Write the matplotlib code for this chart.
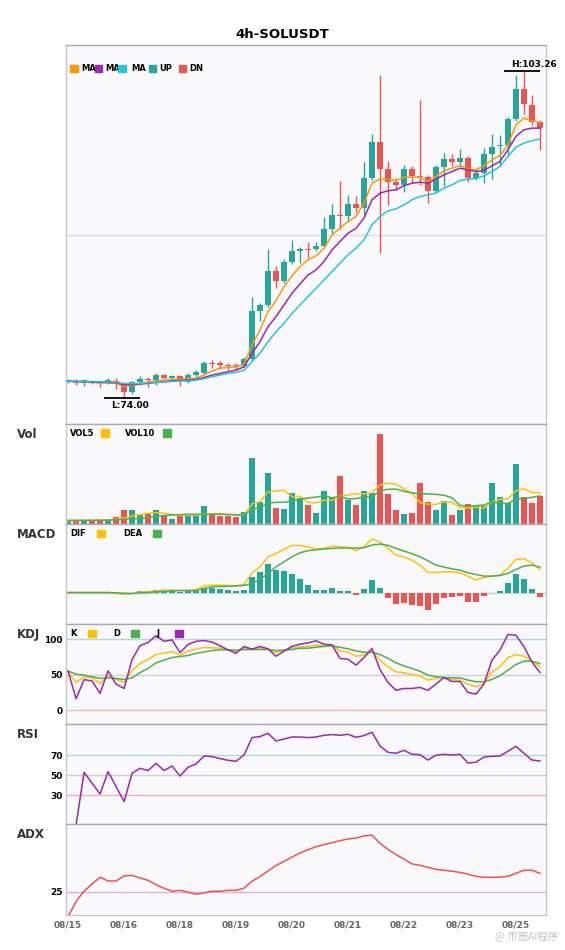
import numpy as np
import matplotlib
matplotlib.use("Agg")
import matplotlib.pyplot as plt
from matplotlib.patches import Rectangle

# ---- data (60 x 4h candles) ----
opens = [75.39, 75.51, 75.30, 75.48, 75.36, 75.30, 75.51, 75.06, 74.52, 75.39,
         75.63, 75.57, 76.02, 75.72, 75.93, 75.42, 75.99, 76.23, 77.13, 77.07,
         76.95, 76.89, 76.83, 77.43, 81.80, 82.31, 85.36, 84.46, 86.20, 87.19,
         87.37, 87.37, 87.64, 89.13, 90.40, 90.33, 91.38, 91.05, 93.74, 96.89,
         94.55, 93.38, 93.08, 94.52, 93.89, 93.77, 92.57, 94.70, 95.42, 95.09,
         95.51, 93.74, 94.19, 95.87, 96.53, 96.62, 98.98, 101.71, 100.27, 98.68]
highs = [75.63, 75.63, 75.63, 75.51, 75.39, 75.72, 75.72, 75.18, 75.51, 75.93,
         75.81, 76.17, 76.11, 76.05, 76.02, 76.17, 76.47, 77.31, 77.37, 77.28,
         77.07, 77.13, 77.67, 83.03, 82.52, 87.34, 85.81, 86.41, 88.15, 87.55,
         87.94, 88.00, 90.24, 91.38, 93.47, 92.19, 92.10, 95.09, 97.66, 102.96,
         95.18, 93.68, 94.85, 94.79, 100.66, 93.98, 94.85, 95.93, 95.84, 96.32,
         95.63, 94.49, 96.38, 97.66, 97.57, 99.16, 102.96, 103.26, 101.17, 98.92]
lows = [75.27, 75.15, 75.06, 75.21, 74.97, 75.21, 74.79, 74.00, 74.28, 75.21,
        74.97, 75.15, 75.63, 75.57, 75.06, 75.27, 75.81, 76.02, 76.62, 76.56,
        76.47, 76.47, 76.71, 77.37, 80.90, 82.16, 83.86, 84.31, 85.99, 86.11,
        86.56, 87.19, 87.55, 88.80, 89.10, 89.79, 90.66, 90.39, 93.53, 86.95,
        91.29, 92.64, 92.40, 93.29, 93.08, 91.50, 92.34, 92.99, 94.79, 94.79,
        93.38, 93.53, 93.23, 93.59, 94.79, 95.63, 98.77, 99.46, 98.47, 96.17]
closes = [75.51, 75.33, 75.54, 75.39, 75.30, 75.54, 75.21, 74.52, 75.39, 75.69,
          75.57, 76.05, 75.75, 75.93, 75.51, 75.99, 76.26, 77.10, 77.01, 76.95,
          76.86, 76.80, 77.46, 81.77, 82.31, 85.36, 84.49, 86.20, 87.16, 87.34,
          87.28, 87.64, 89.13, 90.39, 90.30, 91.38, 91.05, 93.74, 96.89, 94.55,
          93.38, 93.08, 94.52, 93.92, 93.77, 92.57, 94.70, 95.42, 95.09, 95.51,
          93.74, 94.19, 95.87, 96.47, 96.62, 98.98, 101.71, 100.33, 98.71, 98.20]

ma_fast = [75.45, 75.42, 75.39, 75.36, 75.33, 75.33, 75.27, 75.03, 75.06, 75.24,
           75.39, 75.51, 75.57, 75.63, 75.63, 75.72, 75.72, 76.05, 76.38, 76.65,
           76.71, 76.74, 76.95, 78.72, 80.06, 81.71, 82.70, 83.95, 84.91, 85.75,
           86.35, 86.71, 87.40, 88.59, 89.19, 89.79, 90.24, 91.44, 93.23, 93.62,
           93.56, 93.47, 93.77, 93.77, 93.77, 93.38, 93.83, 94.34, 94.58, 94.82,
           94.52, 94.43, 94.79, 95.33, 95.72, 96.68, 98.47, 99.07, 98.83, 98.68]
ma_mid = [75.48, 75.45, 75.42, 75.39, 75.36, 75.36, 75.33, 75.15, 75.15, 75.21,
          75.27, 75.36, 75.42, 75.51, 75.54, 75.57, 75.63, 75.81, 76.02, 76.17,
          76.32, 76.47, 76.75, 77.97, 79.01, 80.36, 81.26, 82.31, 83.36, 84.19,
          85.00, 85.45, 86.20, 87.25, 88.00, 88.74, 89.19, 90.09, 91.74, 92.34,
          92.55, 92.64, 93.00, 93.23, 93.32, 93.23, 93.59, 93.98, 94.28, 94.58,
          94.43, 94.28, 94.37, 94.79, 95.18, 96.23, 97.43, 98.02, 98.17, 98.17]
ma_slow = [75.48, 75.48, 75.45, 75.45, 75.42, 75.42, 75.36, 75.27, 75.24, 75.27,
           75.33, 75.36, 75.39, 75.45, 75.48, 75.51, 75.57, 75.69, 75.87, 76.02,
           76.17, 76.26, 76.45, 77.22, 77.97, 79.01, 79.91, 80.66, 81.56, 82.31,
           83.06, 83.80, 84.55, 85.30, 86.05, 86.80, 87.40, 88.15, 89.49, 90.24,
           90.75, 90.93, 91.29, 91.74, 92.04, 92.19, 92.34, 92.79, 93.08, 93.47,
           93.59, 93.65, 93.89, 94.28, 94.73, 95.63, 96.47, 96.83, 97.04, 97.19]

volume = [100, 130, 110, 120, 120, 120, 220, 430, 430, 300,
          310, 430, 260, 160, 260, 260, 250, 550, 280, 250,
          250, 220, 370, 1990, 670, 1540, 490, 460, 940, 790,
          580, 340, 1000, 790, 1450, 740, 580, 1000, 940, 2710,
          910, 430, 310, 340, 1240, 670, 430, 700, 280, 430,
          610, 550, 550, 1240, 820, 640, 1810, 820, 640, 850]
vol5 = [100, 110, 120, 120, 130, 130, 150, 190, 250, 290,
        330, 350, 330, 290, 270, 280, 270, 300, 320, 320,
        300, 290, 280, 610, 680, 970, 1000, 1020, 830, 840,
        660, 640, 720, 720, 840, 880, 915, 910, 945, 1180,
        1230, 1205, 1060, 940, 650, 600, 600, 670, 665, 505,
        490, 510, 485, 670, 750, 755, 1010, 1065, 950, 945]
vol10 = [120, 120, 120, 120, 120, 125, 135, 150, 160, 170,
         200, 240, 260, 280, 290, 300, 300, 300, 300, 300,
         290, 280, 280, 450, 510, 630, 660, 660, 700, 760,
         790, 815, 860, 790, 840, 760, 770, 820, 820, 1010,
         1050, 1055, 990, 940, 920, 910, 900, 870, 800, 570,
         545, 555, 580, 670, 630, 625, 760, 775, 810, 850]

dif = [0, 0, 0, 0, 0, 0, -0.033, -0.1, -0.05, 0.017,
       0.033, 0.083, 0.117, 0.117, 0.1, 0.1, 0.15, 0.333, 0.367, 0.367,
       0.35, 0.333, 0.4, 0.983, 1.283, 1.783, 1.95, 2.15, 2.35, 2.35,
       2.267, 2.167, 2.2, 2.317, 2.283, 2.267, 2.083, 2.283, 2.667, 2.517,
       2.2, 1.867, 1.767, 1.617, 1.367, 1.0, 1.0, 1.033, 1.033, 0.983,
       0.817, 0.617, 0.75, 0.817, 0.867, 1.2, 1.65, 1.683, 1.483, 1.15]
dea = [0, 0, 0, 0, 0, 0, -0.017, -0.033, -0.05, -0.017,
       0, 0.033, 0.067, 0.083, 0.1, 0.1, 0.1, 0.2, 0.283, 0.3,
       0.317, 0.333, 0.35, 0.45, 0.65, 0.95, 1.283, 1.533, 1.783, 1.983,
       2.083, 2.133, 2.167, 2.2, 2.217, 2.217, 2.217, 2.233, 2.367, 2.417,
       2.35, 2.2, 2.067, 1.933, 1.783, 1.583, 1.367, 1.267, 1.183, 1.117,
       0.983, 0.9, 0.817, 0.817, 0.85, 0.95, 1.15, 1.317, 1.367, 1.267]
macd_hist = [0, 0, 0, 0, -0.017, 0, -0.033, -0.083, -0.017, 0.1,
             0.1, 0.15, 0.1, 0.067, 0.033, 0.067, 0.083, 0.25, 0.25, 0.2,
             0.117, 0.1, 0.117, 0.783, 1.017, 1.417, 1.117, 1.067, 0.917, 0.65,
             0.367, 0.117, 0.117, 0.217, 0.067, 0.067, -0.117, 0.167, 0.617, 0.217,
             -0.283, -0.583, -0.517, -0.633, -0.683, -0.883, -0.583, -0.283, -0.217, -0.183,
             -0.483, -0.483, -0.183, 0.0, 0.067, 0.467, 0.917, 0.667, 0.167, -0.217]

k_line = [54, 39, 47, 45.5, 37.6, 48.4, 43.7, 39, 56, 65.7,
          71.4, 78.4, 80.3, 82.6, 77.5, 83, 86, 88.3, 87.8, 87.3,
          85.4, 82.6, 87.8, 86, 87.8, 86, 81.2, 84.5, 87.8, 89.2,
          90, 91.5, 91, 91.5, 83.6, 81.7, 76, 77.5, 83, 70.4,
          61, 54, 52.6, 50.2, 47.9, 42.3, 45, 46, 43.2, 42.3,
          36.6, 32.9, 37.6, 53.5, 61, 74.2, 78.4, 76, 69.5, 61]
d_line = [55, 50.7, 49.3, 47, 44.6, 45.5, 44.6, 43.2, 45.5, 53,
          58.7, 66.7, 70.4, 74.2, 75.6, 77, 80, 82, 84, 85,
          85, 84.5, 85.4, 85.4, 85.4, 85.4, 84, 84.5, 85.4, 87.3,
          87.3, 88.7, 89.7, 90.6, 88.5, 86.5, 83.5, 81.5, 81.5, 78.5,
          73, 66.7, 62.4, 58.7, 54.9, 49.3, 47, 46, 45.5, 45.5,
          42.3, 40, 40, 43.2, 48.4, 56.3, 64.3, 69, 69, 65.7]
j_line = [55, 16, 43, 41, 23.5, 55.4, 36.6, 30.5, 71.4, 91,
          95.3, 105, 97, 99, 81, 92.5, 97, 98, 96, 90.6,
          85, 80, 89.7, 86, 89.7, 86.4, 76, 83, 90, 93,
          94.8, 97.7, 93, 92, 72.8, 71.8, 63.4, 74, 87, 57.3,
          39, 28, 30.5, 30.5, 32, 28, 36.6, 46, 40.4, 40.4,
          25, 22.5, 36.6, 70.4, 84.5, 106.6, 105.6, 89.7, 68, 53]

rsi = [np.nan, 0.5, 53, 42, 31.3, 53.7, 38.7, 23.7, 52, 57,
       54.7, 62, 54.7, 59.3, 49.3, 58, 61.3, 69.3, 68.7, 66.7,
       65, 64, 70.3, 87.7, 88.7, 92, 84.3, 86.3, 88.3, 88.3,
       87.7, 88.3, 90, 90.7, 90, 91, 88, 89.7, 93, 79.3,
       73, 72, 75, 71, 70.7, 65.3, 70, 71, 70.3, 71,
       62.3, 63, 68.3, 69, 69.3, 74, 79, 72, 65.3, 64.3]

adx = [14.5, 20.9, 25.4, 28.4, 31.3, 29.7, 29.7, 31.9, 32.1, 31,
       30, 28.1, 26.6, 25.3, 25.7, 24.9, 24, 24.6, 25.3, 25.3,
       25.7, 25.7, 26.6, 29.6, 31.6, 34, 36.3, 38.1, 40, 41.7,
       43.1, 44.4, 45.3, 46.1, 47, 47.7, 48.1, 49, 49.4, 45.9,
       43.3, 41, 39.1, 37, 36.4, 35.6, 34.7, 34.3, 33.9, 33.4,
       32.6, 31.7, 31.3, 31.3, 31.3, 31.7, 33, 34.3, 34.3, 33]

tick_pos = [0, 7, 14, 21, 28, 35, 42, 49, 56]
tick_labels = ['08/15', '08/16', '08/18', '08/19', '08/20', '08/21', '08/22', '08/23', '08/25']

# ---- style ----
UP = '#26a69a'
DN = '#ef5350'
C_MA1, C_MA2, C_MA3 = '#ff9800', '#9c27b0', '#26c6da'
YEL, GRN, PUR = '#ffc107', '#4caf50', '#9c27b0'
FACE = '#f9f9fc'
EDGE = '#c6c6d2'

W, H = 565, 950
L_PX, R_PX = 65.7, 545.5

fig = plt.figure(figsize=(W / 100, H / 100), dpi=100)


def box(top, bottom):
    return [L_PX / W, 1 - bottom / H, (R_PX - L_PX) / W, (bottom - top) / H]


def fx(x):
    return x / W


def fy(y):
    return 1 - y / H


def style_ax(ax):
    ax.set_facecolor(FACE)
    for s in ax.spines.values():
        s.set_color(EDGE)
        s.set_linewidth(1)
    ax.spines['top'].set_color('#a9a9b3')
    ax.set_xlim(-0.3, 59.7)
    ax.tick_params(axis='x', bottom=False, labelbottom=False)
    ax.tick_params(axis='y', length=0, pad=2, labelsize=6.5)
    for t in ax.get_yticklabels():
        t.set_fontweight('bold')


x = np.arange(len(closes))
o = np.array(opens)
c = np.array(closes)
colors = [UP if cc >= oo else DN for oo, cc in zip(o, c)]

# ---- main candlestick panel ----
ax = fig.add_axes(box(45, 424))
style_ax(ax)
lo, hi = min(lows), max(highs)
pad = (hi - lo) * 0.081
ax.set_ylim(lo - pad, hi + pad)
ax.set_yticks([])
ax.axhline((lo + hi) / 2, color='#dcdce4', lw=1, zorder=0)
ax.vlines(x, lows, highs, colors=colors, lw=1, zorder=2)
ax.bar(x, np.maximum(np.abs(c - o), 0.08), bottom=np.minimum(o, c), width=0.72,
       color=colors, zorder=3)
ax.plot(x, ma_fast, color=C_MA1, lw=1.1, zorder=4)
ax.plot(x, ma_mid, color=C_MA2, lw=1.1, zorder=4)
ax.plot(x, ma_slow, color=C_MA3, lw=1.1, zorder=4)

i_hi = int(np.argmax(highs))
i_lo = int(np.argmin(lows))
ax.hlines(hi, i_hi - 2.5, i_hi + 2, color='black', lw=1.3, zorder=5)
ax.annotate(f'H:{hi:.2f}', (i_hi - 1.6, hi), xytext=(0, 1.5), textcoords='offset points',
            ha='left', va='bottom', fontsize=6.5, fontweight='bold', annotation_clip=False)
ax.hlines(lo, i_lo - 2.5, i_lo + 2, color='black', lw=1.3, zorder=5)
ax.annotate(f'L:{lo:.2f}', (i_lo - 1.6, lo), xytext=(0, -2.5), textcoords='offset points',
            ha='left', va='top', fontsize=6.5, fontweight='bold')

# ---- volume ----
axv = fig.add_axes(box(424, 524.3))
style_ax(axv)
axv.bar(x, volume, width=0.72, color=colors, zorder=2)
axv.plot(x, vol5, color=YEL, lw=1.1, zorder=3)
axv.plot(x, vol10, color=GRN, lw=1.1, zorder=3)
axv.set_ylim(0, max(volume) * 1.11)
axv.set_yticks([])

# ---- MACD ----
axm = fig.add_axes(box(524.3, 624.3))
style_ax(axm)
axm.axhline(0, color='#cfcfd6', lw=1, zorder=1)
axm.bar(x, macd_hist, width=0.72, color=[UP if v >= 0 else DN for v in macd_hist], zorder=2)
axm.plot(x, dif, color=YEL, lw=1.1, zorder=3)
axm.plot(x, dea, color=GRN, lw=1.1, zorder=3)
axm.set_ylim(-1.583, 3.4)
axm.set_yticks([])

# ---- KDJ ----
axk = fig.add_axes(box(624.3, 724.3))
axk.set_ylim(-20, 121)
axk.set_yticks([0, 50, 100])
axk.axhline(100, color='#a9dcd4', lw=1, zorder=1)
axk.axhline(50, color='#cfcfd6', lw=1, zorder=1)
axk.axhline(0, color='#f6b3b3', lw=1, zorder=1)
axk.plot(x, k_line, color=YEL, lw=1.1, zorder=3)
axk.plot(x, d_line, color=GRN, lw=1.1, zorder=3)
axk.plot(x, j_line, color=PUR, lw=1.1, zorder=3)
style_ax(axk)

# ---- RSI ----
axr = fig.add_axes(box(724.3, 824.3))
axr.set_ylim(1, 101)
axr.set_yticks([30, 50, 70])
axr.axhline(70, color='#a9dcd4', lw=1, zorder=1)
axr.axhline(50, color='#cfcfd6', lw=1, zorder=1)
axr.axhline(30, color='#f6b3b3', lw=1, zorder=1)
axr.plot(x, rsi, color=PUR, lw=1.1, zorder=3)
style_ax(axr)

# ---- ADX ----
axa = fig.add_axes(box(824.3, 915.3))
axa.set_ylim(15, 54)
axa.set_yticks([25])
axa.axhline(25, color='#dfaee9', lw=1, zorder=1)
axa.plot(x, adx, color=DN, lw=1.1, zorder=3)
style_ax(axa)
axa.tick_params(axis='x', bottom=False, labelbottom=True, pad=0.5, labelsize=6.5,
                labelcolor='#666666')
axa.set_xticks(tick_pos)
axa.set_xticklabels(tick_labels, fontweight='bold')

# ---- texts ----
fig.text(0.5, fy(35), '4h-SOLUSDT', ha='center', va='center', fontsize=9.5, fontweight='bold')
for name, top in [('Vol', 424), ('MACD', 524.3), ('KDJ', 624.3), ('RSI', 724.3), ('ADX', 824.3)]:
    fig.text(fx(17), fy(top + 10.5), name, ha='left', va='center', fontsize=8.5,
             fontweight='bold', color='#333333')


def legend_item(tx, sx, y, label, color, size=7.5):
    fig.text(fx(tx), fy(y), label, ha='left', va='center', fontsize=6,
             fontweight='bold', zorder=4)
    fig.add_artist(Rectangle((fx(sx), fy(y + size / 2)), size / W, size / H,
                             transform=fig.transFigure, color=color, zorder=6))


legend_item(81, 70, 68.7, 'MA', C_MA1)
legend_item(105, 94.5, 68.7, 'MA', C_MA2)
legend_item(131, 118, 68.7, 'MA', C_MA3)
legend_item(159, 148.5, 68.7, 'UP', UP)
legend_item(189.5, 178.5, 68.7, 'DN', DN)

legend_item(70, 101, 433, 'VOL5', YEL)
legend_item(125, 163, 433, 'VOL10', GRN)
legend_item(70, 97, 533.5, 'DIF', YEL)
legend_item(123, 153, 533.5, 'DEA', GRN)
legend_item(70, 88, 633.5, 'K', YEL)
legend_item(113, 131, 633.5, 'D', GRN)
legend_item(156.5, 175, 633.5, 'J', PUR)

fig.text(fx(558), fy(937), '@ 币圈AI程序', ha='right', va='center', fontsize=7.5,
         color='#c4c4c4', family=['Noto Sans CJK SC', 'DejaVu Sans'])

fig.savefig('out.png', dpi=100, facecolor='white')
